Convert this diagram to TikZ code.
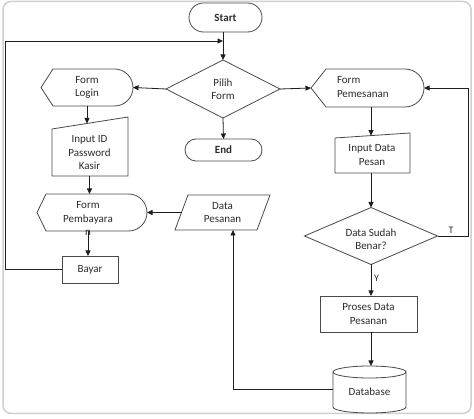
\documentclass[tikz,border=0pt]{standalone}
\usepackage{fontspec}
\setmainfont{Carlito}
\usetikzlibrary{arrows.meta,shapes.misc,calc}
\definecolor{shapeline}{HTML}{4A4A4A}
\definecolor{conn}{HTML}{1E1E1E}
\definecolor{framec}{HTML}{D0D0D0}
\definecolor{txt}{HTML}{2B2B2B}
\tikzset{
  base/.style={inner sep=0pt, outer sep=0pt, text=txt, font=\fontsize{11}{13.5}\selectfont, align=center},
  outline/.style={draw=shapeline, line width=0.8pt, line join=miter},
  term/.style={base, rounded rectangle, draw=shapeline, line width=0.8pt, font=\fontsize{11}{13.5}\selectfont\bfseries},
  conn/.style={draw=conn, line width=0.8pt, -{Triangle[length=5.5pt,width=5pt]}},
  plain/.style={draw=conn, line width=0.8pt},
  lab/.style={base, font=\fontsize{10}{12}\selectfont}
}
\begin{document}
\begin{tikzpicture}[x=1pt,y=1pt]
\useasboundingbox (0,0) rectangle (474,-419);
% frame
\draw[framec, line width=1.5pt, rounded corners=8pt] (3,-1.5) rectangle (471,-413.5);

% nodes
\node[term, minimum width=73pt, minimum height=29pt] (start) at (225.5,-17.5) {Start};
\node[base, minimum width=114pt, minimum height=58pt] (pilih) at (223,-89) {Pilih\\Form};
\draw[outline] (pilih.north) -- (pilih.east) -- (pilih.south) -- (pilih.west) -- cycle;
\node[term, minimum width=77pt, minimum height=22pt] (end) at (223.5,-150) {End};

% Form Login (display)
\node[base, minimum width=92pt, minimum height=37pt] (login) at (87,-87.5) {Form\\Login};
\draw[outline] (login.west) -- ([xshift=12pt]login.north west) -- ([xshift=-18.5pt]login.north east)
  arc[start angle=90, end angle=-90, radius=18.5pt] -- ([xshift=12pt]login.south west) -- cycle;

% Input ID (manual input)
\node[base, minimum width=76pt, minimum height=59pt] (inid) at (90,-146.5) {};
\draw[outline] (inid.south west) -- ([yshift=-12pt]inid.north west) -- coordinate[pos=0.46] (inidtop) (inid.north east) -- (inid.south east) -- cycle;
\node[base] (inidtxt) at (89.5,-153) {Input ID\\Password\\Kasir};

% Form Pembayaran (display)
\node[base, minimum width=110pt, minimum height=37pt] (pay) at (92,-212.5) {};
\draw[outline] (pay.west) -- ([xshift=9pt]pay.north west) -- ([xshift=-18.5pt]pay.north east)
  arc[start angle=90, end angle=-90, radius=18.5pt] -- ([xshift=9pt]pay.south west) -- cycle;
\node[base] (paytxt) at (88,-218.5) {Form\\Pembayara\\n};

% Bayar
\node[base, outline, minimum width=56pt, minimum height=27pt] (bayar) at (90,-269.5) {Bayar};

% Data Pesanan (parallelogram)
\node[base, minimum width=95pt, minimum height=35pt] (dp) at (222.5,-212.5) {Data\\Pesanan};
\draw[outline] (dp.south west) -- coordinate[pos=0.5] (dpw) ([xshift=13pt]dp.north west) -- (dp.north east) -- ([xshift=-13pt]dp.south east) -- cycle;

% Form Pemesanan (display)
\node[base, minimum width=113pt, minimum height=38pt] (pem) at (367.5,-88) {};
\draw[outline] (pem.west) -- ([xshift=15pt]pem.north west) -- ([xshift=-19pt]pem.north east)
  arc[start angle=90, end angle=-90, radius=19pt] -- ([xshift=15pt]pem.south west) -- cycle;
\node[base, align=left, anchor=west] (pemtxt) at (337,-87) {Form\\Pemesanan};

% Input Data Pesan (manual input)
\node[base, minimum width=75pt, minimum height=40pt] (indata) at (372.5,-153) {};
\draw[outline] (indata.south west) -- ([yshift=-5pt]indata.north west) -- coordinate[pos=0.48] (indatatop) (indata.north east) -- (indata.south east) -- cycle;
\node[base] (indatatxt) at (372,-155) {Input Data\\Pesan};

% Data Sudah Benar? (decision)
\node[base, minimum width=133pt, minimum height=57pt] (cek) at (371,-236) {};
\draw[outline] (cek.north) -- (cek.east) -- (cek.south) -- (cek.west) -- cycle;
\node[base] (cektxt) at (371,-239) {Data Sudah\\Benar?};

% Proses Data Pesanan
\node[base, outline, minimum width=97pt, minimum height=36pt] (proses) at (368.5,-314) {Proses Data\\Pesanan};

% Database (cylinder)
\node[base, minimum width=73pt, minimum height=47pt] (db) at (369.5,-389.5) {};
\draw[outline] ([yshift=-6pt]db.north west) -- ([yshift=6pt]db.south west)
  arc[x radius=36.5pt, y radius=6pt, start angle=180, end angle=360]
  -- ([yshift=-6pt]db.north east)
  arc[x radius=36.5pt, y radius=6pt, start angle=0, end angle=180] -- cycle;
\draw[outline] ([yshift=-6pt]db.north west) arc[x radius=36.5pt, y radius=6pt, start angle=180, end angle=360];
\node[base] (dbtxt) at (369.5,-392) {Database};

% helper coordinates
\coordinate (loopL) at (5.5,-41);
\coordinate (loopR) at (468,-88);

% connectors
\draw[conn] (pilih.north |- start.south) -- (pilih.north);
\draw[conn] (bayar.west) -| (loopL) -- (loopL -| pilih.north);
\draw[conn] (pilih.west) -- (login.east);
\draw[conn] (pilih.east) -- (pem.west);
\draw[conn] (pilih.south) -- (end.north);
\draw[conn] (login.south) -- (login.south |- inidtop);
\draw[conn] (inidtxt.south |- inid.south) -- (inidtxt.south |- pay.north);
\draw[conn] (paytxt.south |- pay.south) -- (paytxt.south |- bayar.north);
\draw[conn] (dpw) -- (dpw -| pay.east);
\draw[conn] (db.west) -| ([xshift=10.5pt]dp.south);
\draw[conn] (indatatop |- pem.south) -- (indatatop);
\draw[conn] (indatatop |- indata.south) -- (indatatop |- cek.north);
\draw[conn] (cek.east) -| (loopR) -- (pem.east);
\draw[conn] (cek.south) -- (cek.south |- proses.north);
\draw[conn] (cek.south |- proses.south) -- (cek.south |- db.north);

% labels
\node[lab] (tlab) at (451,-230) {T};
\node[lab] (ylab) at (376.5,-278) {Y};
\end{tikzpicture}
\end{document}
